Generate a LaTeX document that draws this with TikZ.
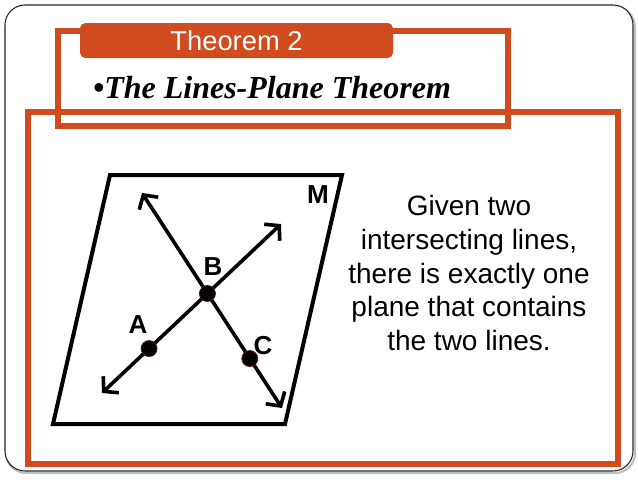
\documentclass[tikz,border=0pt]{standalone}
\usepackage{fontspec}
\setmainfont{Liberation Sans}
\newfontfamily\titlefont{Liberation Serif}
\usetikzlibrary{arrows.meta}
\definecolor{slideorange}{RGB}{208,75,30}
\definecolor{dotrim}{RGB}{90,25,10}
\tikzset{
  frameline/.style = {draw=slideorange, line width=4.4pt},
  headbox/.style = {fill=slideorange, rounded corners=4pt, text=white, inner sep=0pt,
                    minimum width=234.75pt, minimum height=26.25pt,
                    font=\fontsize{20.5}{20.5}\selectfont},
  pt/.style = {circle, fill=black, draw=dotrim, line width=0.6pt, inner sep=0pt, minimum size=12pt},
  ptlabel/.style = {inner sep=0pt, font=\bfseries\fontsize{19.5}{19.5}\selectfont},
  vline/.style = {line width=2.7pt,
                  {Straight Barb[length=7.5pt,width=17pt]}-{Straight Barb[length=7.5pt,width=17pt]}}
}
\begin{document}
\begin{tikzpicture}[x=0.75pt, y=-0.75pt]
\useasboundingbox (0,0) rectangle (638,479);

% Draw the slide
\draw[black!25, line width=1.6pt, rounded corners=15pt] (6,7) rectangle (635,473);
\draw[black!85, line width=0.8pt, rounded corners=15pt, fill=white] (5,5) rectangle (633,471);
\draw[frameline] (28,112) rectangle (618,464);
\draw[frameline] (58,31) rectangle (508,126);
\node [headbox] (head) at (236.5,40.5) {Theorem 2};
\node (title) at (272,88) {\titlefont\bfseries\itshape\fontsize{24}{24}\selectfont
  \textbullet The Lines-Plane Theorem};

% Draw the plane
\draw[line width=3pt, line join=miter] (110,175) -- (342,175) -- (285,424) -- (53,424) -- cycle;
\node [ptlabel] (m) at (318,195) {M};

% Draw the lines
\coordinate (ll) at (102,393);
\coordinate (ur) at (281,224);
\coordinate (ul) at (142,193);
\coordinate (lr) at (282,408);
\draw[vline] (ll) -- (ur);
\draw[vline] (ul) -- (lr);
\node [pt] (b) at (intersection of ll--ur and ul--lr) {};
\path (ll) -- (ur) node [pt, pos=0.263] (a) {};
\path (ul) -- (lr) node [pt, pos=0.77] (c) {};
\node [ptlabel] (alabel) at (138,325) {A};
\node [ptlabel] (blabel) at (213,267) {B};
\node [ptlabel] (clabel) at (263,346) {C};

% Draw the statement
\node [align=center, font=\fontsize{21}{25.3}\selectfont] (given) at (469,273)
  {Given two\\intersecting lines,\\there is exactly one\\plane that contains\\the two lines.};

\end{tikzpicture}
\end{document}
